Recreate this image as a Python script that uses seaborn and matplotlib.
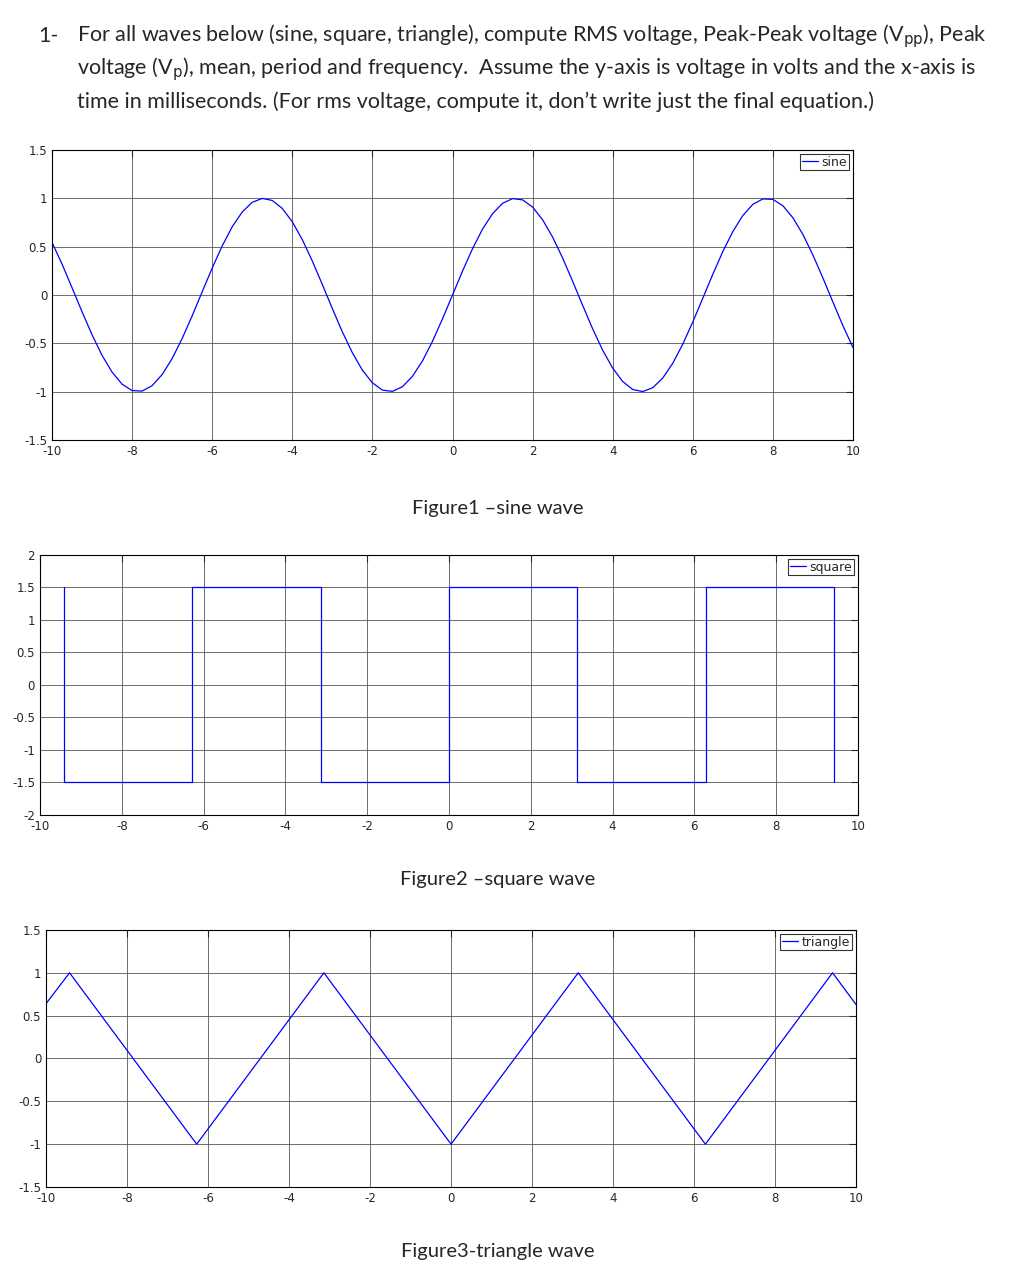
import matplotlib
matplotlib.use("Agg")
import matplotlib.pyplot as plt
import seaborn as sns

sns.set_style("white")
plt.rcParams['font.family'] = ['Lato', 'DejaVu Sans']
plt.rcParams['axes.unicode_minus'] = False

# sine wave samples (x in ms, y in V), step 0.25
sine_x = [-10 + 0.25 * i for i in range(81)]
sine_y = [0.544, 0.320, 0.075, -0.174, -0.412, -0.625, -0.798, -0.923, -0.989, -0.994,
          -0.938, -0.823, -0.657, -0.450, -0.215, 0.033, 0.279, 0.508, 0.706, 0.859,
          0.959, 0.999, 0.978, 0.895, 0.757, 0.572, 0.351, 0.108, -0.141, -0.382,
          -0.598, -0.778, -0.909, -0.984, -0.997, -0.949, -0.841, -0.682, -0.479, -0.247,
          0.0,
          0.247, 0.479, 0.682, 0.841, 0.949, 0.997, 0.984, 0.909, 0.778, 0.598,
          0.382, 0.141, -0.108, -0.351, -0.572, -0.757, -0.895, -0.978, -0.999, -0.959,
          -0.859, -0.706, -0.508, -0.279, -0.033, 0.215, 0.450, 0.657, 0.823, 0.938,
          0.994, 0.989, 0.923, 0.798, 0.625, 0.412, 0.174, -0.075, -0.320, -0.544]

square_x = [-9.42, -9.42, -6.28, -6.28, -3.14, -3.14, 0.0, 0.0, 3.14, 3.14, 6.28, 6.28, 9.42, 9.42]
square_y = [1.5, -1.5, -1.5, 1.5, 1.5, -1.5, -1.5, 1.5, 1.5, -1.5, -1.5, 1.5, 1.5, -1.5]

tri_x = [-10, -9.42, -6.28, -3.14, 0.0, 3.14, 6.28, 9.42, 10]
tri_y = [0.64, 1.0, -1.0, 1.0, -1.0, 1.0, -1.0, 1.0, 0.63]

xticks = [-10, -8, -6, -4, -2, 0, 2, 4, 6, 8, 10]

fig = plt.figure(figsize=(10.12, 12.82), dpi=100)

panels = [
    ([0.0514, 0.6568, 0.7915, 0.2262], sine_x, sine_y, "sine", (-1.5, 1.5),
     [-1.5, -1, -0.5, 0, 0.5, 1, 1.5], ["-1.5", "-1", "-0.5", "0", "0.5", "1", "1.5"]),
    ([0.0395, 0.3643, 0.8083, 0.2028], square_x, square_y, "square", (-2, 2),
     [-2, -1.5, -1, -0.5, 0, 0.5, 1, 1.5, 2], ["-2", "-1.5", "-1", "-0.5", "0", "0.5", "1", "1.5", "2"]),
    ([0.0455, 0.0741, 0.8004, 0.2005], tri_x, tri_y, "triangle", (-1.5, 1.5),
     [-1.5, -1, -0.5, 0, 0.5, 1, 1.5], ["-1.5", "-1", "-0.5", "0", "0.5", "1", "1.5"]),
]

for rect, x, y, name, ylim, yt, ytl in panels:
    ax = fig.add_axes(rect)
    sns.lineplot(x=x, y=y, ax=ax, color="blue", linewidth=0.9, sort=False,
                 estimator=None, label=name)
    ax.set_xlim(-10, 10)
    ax.set_ylim(*ylim)
    ax.set_xticks(xticks)
    ax.set_xticklabels([str(t) for t in xticks])
    ax.set_yticks(yt)
    ax.set_yticklabels(ytl)
    ax.grid(True, color="#555555", linewidth=0.6)
    ax.tick_params(direction="in", top=True, right=True, labelsize=8.5, length=5,
                   labelfontfamily="DejaVu Sans")
    for s in ax.spines.values():
        s.set_color("black")
        s.set_linewidth(0.8)
    leg = ax.legend(loc="upper right", frameon=True, fancybox=False,
                    handlelength=1.3, handletextpad=0.3, borderpad=0.15,
                    borderaxespad=0.3, prop={"family": "DejaVu Sans", "size": 9})
    leg.get_frame().set_edgecolor("black")
    leg.get_frame().set_linewidth(0.8)

fig.text(498 / 1012, 1 - 508 / 1282, "Figure1 \u2013sine wave", ha="center", va="center", fontsize=14.5)
fig.text(498 / 1012, 1 - 880 / 1282, "Figure2 \u2013square wave", ha="center", va="center", fontsize=14.5)
fig.text(498 / 1012, 1 - 1251 / 1282, "Figure3-triangle wave", ha="center", va="center", fontsize=14.5)

fig.text(38 / 1012, 1 - 36 / 1282, "1-", ha="left", va="center", fontsize=15.5)
lines = [
    "For all waves below (sine, square, triangle), compute RMS voltage, Peak-Peak voltage (V$_{\\rm pp}$), Peak",
    "voltage (V$_{\\rm p}$), mean, period and frequency.  Assume the y-axis is voltage in volts and the x-axis is",
    "time in milliseconds. (For rms voltage, compute it, don\u2019t write just the final equation.)",
]
for i, t in enumerate(lines):
    fig.text(77 / 1012, 1 - (36 + 33 * i) / 1282, t, ha="left", va="center", fontsize=15.5)

fig.savefig("out.png", dpi=100)
